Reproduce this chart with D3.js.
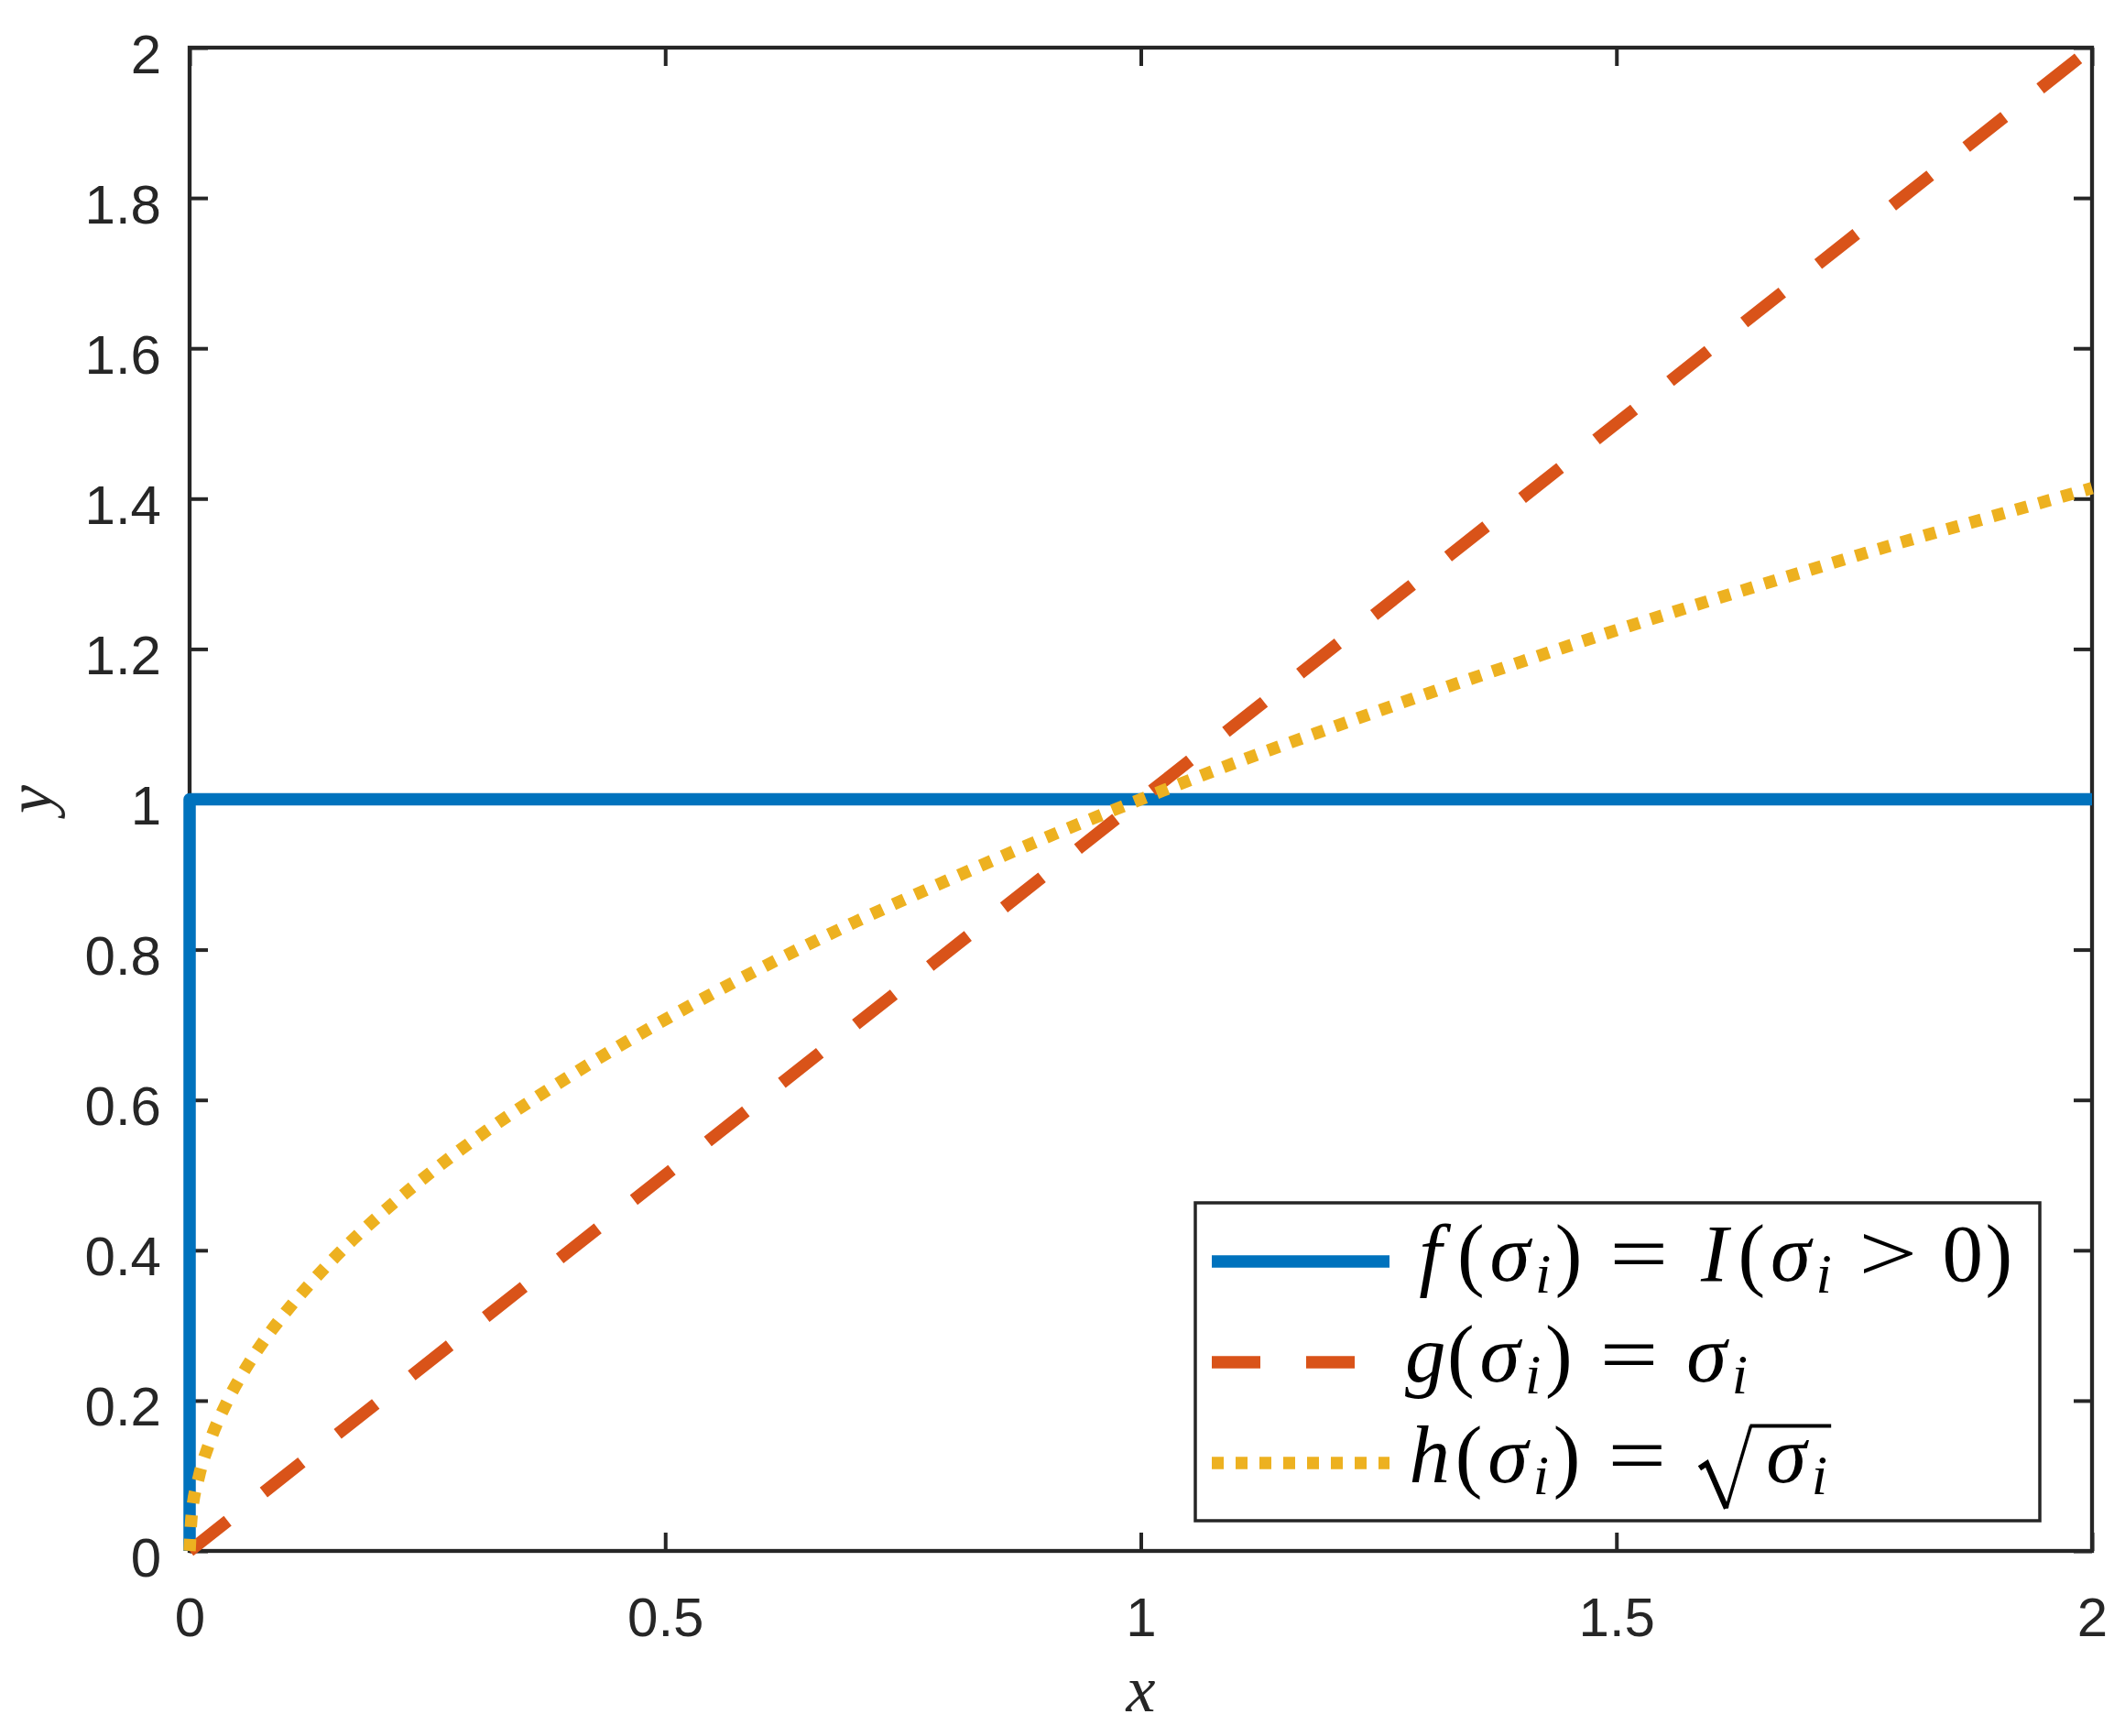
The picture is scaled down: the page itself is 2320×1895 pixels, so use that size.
<!DOCTYPE html>
<html lang="en">
<head>
    <meta charset="UTF-8">
    <title>f, g, h of sigma</title>
    <style>
        body { margin: 0; background: #fff; }
        svg { display: block; }
    </style>
</head>
<body>
<script src="https://d3js.org/d3.v7.min.js"></script>
<script>
    // Data
    const xTicks = [0, 0.5, 1, 1.5, 2];
    const yTicks = [0, 0.2, 0.4, 0.6, 0.8, 1, 1.2, 1.4, 1.6, 1.8, 2];

    // f(sigma) = I(sigma > 0)
    const fX = [0, 0, 2];
    const fY = [0, 1, 1];

    // g(sigma) = sigma
    const gX = [0, 2];
    const gY = [0, 2];

    // h(sigma) = sqrt(sigma)
    const hX = [0, 0.002, 0.01, 0.02, 0.04, 0.06, 0.08, 0.1, 0.15, 0.2, 0.25, 0.3, 0.4, 0.5,
                0.6, 0.7, 0.8, 0.9, 1.0, 1.1, 1.2, 1.3, 1.4, 1.5, 1.6, 1.7, 1.8, 1.9, 2.0];
    const hY = [0, 0.045, 0.1, 0.141, 0.2, 0.245, 0.283, 0.316, 0.387, 0.447, 0.5, 0.548, 0.632, 0.707,
                0.775, 0.837, 0.894, 0.949, 1.0, 1.049, 1.095, 1.14, 1.183, 1.225, 1.265, 1.304, 1.342, 1.378, 1.414];

    const seriesNames = ["f", "g", "h"];
    const seriesColors = ["#0072BD", "#D95319", "#EDB120"];

    // legend labels as math tokens: [glyph, kind]
    const legendLabels = [
        [["f", "it"], ["(", "rm"], ["σ", "it"], ["i", "sub"], [")", "rm"], ["=", "rel"],
         ["I", "it"], ["(", "rm"], ["σ", "it"], ["i", "sub"], [">", "rel"], ["0", "rm"], [")", "rm"]],
        [["g", "it"], ["(", "rm"], ["σ", "it"], ["i", "sub"], [")", "rm"], ["=", "rel"],
         ["σ", "it"], ["i", "sub"]],
        [["h", "it"], ["(", "rm"], ["σ", "it"], ["i", "sub"], [")", "rm"], ["=", "rel"],
         ["√", "rad"], ["σ", "it"], ["i", "sub"]]
    ];

    const width = 2320;
    const height = 1895;
    const plotLeft = 207, plotRight = 2284, plotTop = 52, plotBottom = 1693;
    const axisColor = "#262626";
    const lineWidth = 13.5;

    const svg = d3.select("body")
        .append("svg")
        .attr("width", width)
        .attr("height", height);

    const xScale = d3.scaleLinear().domain([0, 2]).range([plotLeft, plotRight]);
    const yScale = d3.scaleLinear().domain([0, 2]).range([plotBottom, plotTop]);

    const fmt = d => String(+d.toFixed(1));

    function styleAxis(g) {
        g.select(".domain").remove();
        g.selectAll(".tick line").attr("stroke", axisColor).attr("stroke-width", 4);
        g.selectAll(".tick text")
            .attr("fill", axisColor)
            .attr("font-family", "'Liberation Sans', Arial, Helvetica, sans-serif")
            .attr("font-size", 60);
    }

    // axes with inward ticks on all four sides
    svg.append("g")
        .attr("transform", "translate(0," + plotBottom + ")")
        .call(d3.axisBottom(xScale).tickValues(xTicks).tickFormat(fmt)
            .tickSizeInner(-20).tickSizeOuter(0).tickPadding(50))
        .call(styleAxis);

    svg.append("g")
        .attr("transform", "translate(0," + plotTop + ")")
        .call(d3.axisTop(xScale).tickValues(xTicks).tickFormat("")
            .tickSizeInner(-20).tickSizeOuter(0))
        .call(styleAxis);

    svg.append("g")
        .attr("transform", "translate(" + plotLeft + ",0)")
        .call(d3.axisLeft(yScale).tickValues(yTicks).tickFormat(fmt)
            .tickSizeInner(-20).tickSizeOuter(0).tickPadding(31))
        .call(styleAxis)
        .selectAll(".tick text").attr("dy", "0.45em");

    svg.append("g")
        .attr("transform", "translate(" + plotRight + ",0)")
        .call(d3.axisRight(yScale).tickValues(yTicks).tickFormat("")
            .tickSizeInner(-20).tickSizeOuter(0))
        .call(styleAxis);

    // frame
    svg.append("rect")
        .attr("x", plotLeft)
        .attr("y", plotTop)
        .attr("width", plotRight - plotLeft)
        .attr("height", plotBottom - plotTop)
        .attr("fill", "none")
        .attr("stroke", axisColor)
        .attr("stroke-width", 4.3);

    // axis labels
    const mathFont = "'Liberation Serif', 'Times New Roman', serif";
    svg.append("text")
        .attr("x", (plotLeft + plotRight) / 2)
        .attr("y", 1868)
        .attr("text-anchor", "middle")
        .attr("font-family", mathFont)
        .attr("font-style", "italic")
        .attr("font-size", 72)
        .attr("fill", axisColor)
        .text("x");

    svg.append("text")
        .attr("transform", "translate(56," + (plotTop + plotBottom) / 2 + ") rotate(-90)")
        .attr("text-anchor", "middle")
        .attr("font-family", mathFont)
        .attr("font-style", "italic")
        .attr("font-size", 70)
        .attr("fill", axisColor)
        .text("y");

    // lines
    const dashes = ["none", "53,50", "13,13"];
    const series = [
        d3.zip(fX, fY),
        d3.zip(gX, gY),
        d3.zip(hX, hY)
    ];
    const line = d3.line()
        .x(d => xScale(d[0]))
        .y(d => yScale(d[1]));

    series.forEach((pts, i) => {
        svg.append("path")
            .datum(pts)
            .attr("class", "series-" + seriesNames[i])
            .attr("fill", "none")
            .attr("stroke", seriesColors[i])
            .attr("stroke-width", lineWidth)
            .attr("stroke-dasharray", dashes[i])
            .attr("stroke-linejoin", "round")
            .attr("d", i === 2 ? line.curve(d3.curveMonotoneX)(pts) : line.curve(d3.curveLinear)(pts));
    });

    // legend
    const lg = { x: 1305, y: 1313, w: 922, h: 347 };
    const legend = svg.append("g").attr("transform", `translate(${lg.x},${lg.y})`);
    legend.append("rect")
        .attr("width", lg.w)
        .attr("height", lg.h)
        .attr("fill", "#fff")
        .attr("stroke", axisColor)
        .attr("stroke-width", 3.5);

    const rowY = [64, 174, 284];
    const em = 89;
    // approximate TeX glyph advances (em)
    const adv = { "f": 0.60, "(": 0.389, ")": 0.389, "σ": 0.571, "i": 0.345, "=": 0.778,
                  ">": 0.778, "I": 0.52, "0": 0.5, "g": 0.477, "h": 0.576, "√": 0.88 };
    const thick = 0.278;

    legendLabels.forEach((tokens, r) => {
        const cy = rowY[r];
        const base = cy + 21;
        legend.append("line")
            .attr("x1", 18).attr("x2", 212)
            .attr("y1", cy).attr("y2", cy)
            .attr("stroke", seriesColors[r])
            .attr("stroke-width", lineWidth)
            .attr("stroke-dasharray", dashes[r]);

        let cx = 230;
        let radStart = null;
        tokens.forEach(([t, kind]) => {
            if (kind === "rad") {
                radStart = cx;
                const x0 = cx;
                legend.append("path")
                    .attr("d", `M${x0 + 0.10 * em},${base - 0.17 * em} L${x0 + 0.19 * em},${base - 0.23 * em} L${x0 + 0.43 * em},${base + 0.32 * em}`)
                    .attr("fill", "none").attr("stroke", "#000")
                    .attr("stroke-width", 6).attr("stroke-linejoin", "miter");
                legend.append("path")
                    .attr("d", `M${x0 + 0.43 * em},${base + 0.32 * em} L${x0 + 0.73 * em},${base - 0.69 * em}`)
                    .attr("fill", "none").attr("stroke", "#000")
                    .attr("stroke-width", 3.5);
                cx += adv[t] * em;
                return;
            }
            let size = em, w = adv[t] * em, dy = 0;
            if (kind === "sub") { size = em * 0.7; w = adv[t] * size; dy = 13; }
            if (kind === "rel") cx += thick * em;
            const txt = legend.append("text")
                .attr("x", cx + w / 2)
                .attr("y", base + dy)
                .attr("text-anchor", "middle")
                .attr("font-family", mathFont)
                .attr("font-style", (kind === "it" || kind === "sub") ? "italic" : "normal")
                .attr("font-size", size)
                .attr("fill", "#000")
                .text(t);
            if (kind === "rel") {
                txt.attr("text-anchor", "start")
                    .attr("x", cx + 0.03 * em)
                    .attr("textLength", 0.72 * em)
                    .attr("lengthAdjust", "spacingAndGlyphs");
            }
            cx += w;
            if (kind === "rel") cx += thick * em;
        });
        if (radStart !== null) {
            legend.append("line")
                .attr("x1", radStart + 0.73 * em - 1).attr("x2", cx + 2)
                .attr("y1", base - 0.69 * em).attr("y2", base - 0.69 * em)
                .attr("stroke", "#000").attr("stroke-width", 4);
        }
    });
</script>
</body>
</html>
